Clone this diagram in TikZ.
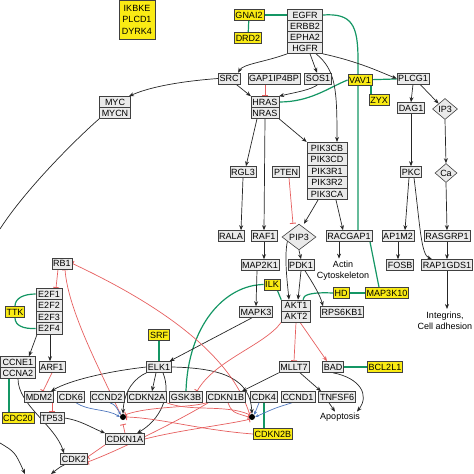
\documentclass[tikz,border=0pt]{standalone}
\usepackage{fontspec}
\setmainfont{Liberation Sans}
\usetikzlibrary{arrows.meta,shapes.geometric,calc}
\definecolor{yel}{RGB}{250,235,20}
\definecolor{grn}{RGB}{20,150,100}
\definecolor{rd}{RGB}{230,95,95}
\definecolor{bl}{RGB}{80,120,190}
\definecolor{bx}{RGB}{234,234,234}
\pgfdeclarelayer{bg}
\pgfsetlayers{bg,main}
\begin{document}
\begin{tikzpicture}[x=1pt,y=-1pt,
  nd/.style={draw=black!75, fill=bx, line width=0.6pt, inner xsep=1.3pt, inner ysep=0pt, minimum height=11pt, text height=6.5pt, text depth=0.2pt, font=\fontsize{9}{10}\selectfont},
  yl/.style={nd, fill=yel},
  dm/.style={diamond, draw=black!75, fill=bx, line width=0.6pt, inner sep=0pt, font=\fontsize{9}{10}\selectfont},
  txt/.style={align=center, inner sep=0pt, font=\fontsize{9}{11}\selectfont},
  dotn/.style={circle, fill=black, minimum size=6pt, inner sep=0pt},
  arr/.style={-{Stealth[length=5pt,width=4pt]}, line width=0.7pt, black!85},
  inh/.style={-{Bar[width=6pt,line width=0.9pt]}, line width=0.7pt, rd},
  rarr/.style={-{Stealth[length=5pt,width=4pt]}, line width=0.7pt, rd},
  gl/.style={line width=1.2pt, grn},
  bll/.style={-{Stealth[length=3.5pt,width=3pt]}, line width=0.7pt, bl}]
\useasboundingbox (0,0) rectangle (474,474);

% ---- nodes ----
\node[draw=black!75, fill=yel, line width=0.6pt, minimum width=36pt, minimum height=39pt, inner sep=0pt, align=center, font=\fontsize{9}{11.5}\selectfont] (ikb) at (137,19.5) {IKBKE\\PLCD1\\DYRK4};
\node[yl] (gnai2) at (249,15) {GNAI2};
\node[yl] (drd2) at (248,38) {DRD2};
\node[nd, minimum width=35pt] (egfr) at (305,15) {EGFR};
\node[nd, minimum width=35pt] (erbb2) at (305,26) {ERBB2};
\node[nd, minimum width=35pt] (epha2) at (305,37) {EPHA2};
\node[nd, minimum width=35pt] (hgfr) at (305,48) {HGFR};
\node[nd] (src) at (229,78.5) {SRC};
\node[nd] (gap) at (274,78.5) {GAP1IP4BP};
\node[nd] (sos1) at (318,78.5) {SOS1};
\node[yl] (vav1) at (360,80) {VAV1};
\node[nd] (plcg1) at (413,78.5) {PLCG1};
\node[yl] (zyx) at (379,100) {ZYX};
\node[nd, minimum width=31pt] (myc) at (115,102) {MYC};
\node[nd, minimum width=31pt] (mycn) at (115,113) {MYCN};
\node[nd, minimum width=27pt] (hras) at (265,102) {HRAS};
\node[nd, minimum width=27pt] (nras) at (265,113) {NRAS};
\node[nd] (dag1) at (411,108) {DAG1};
\node[dm, minimum width=25pt, minimum height=21pt] (ip3) at (445,109) {IP3};
\node[nd, minimum width=40pt, minimum height=11.5pt] (pik3cb) at (327,148) {PIK3CB};
\node[nd, minimum width=40pt, minimum height=11.5pt] (pik3cd) at (327,159.5) {PIK3CD};
\node[nd, minimum width=40pt, minimum height=11.5pt] (pik3r1) at (327,171) {PIK3R1};
\node[nd, minimum width=40pt, minimum height=11.5pt] (pik3r2) at (327,182.5) {PIK3R2};
\node[nd, minimum width=40pt, minimum height=11.5pt] (pik3ca) at (327,194) {PIK3CA};
\node[nd] (rgl3) at (243,172) {RGL3};
\node[nd] (pten) at (286,172) {PTEN};
\node[nd] (pkc) at (411,172) {PKC};
\node[dm, minimum width=22pt, minimum height=19pt] (ca) at (446,173) {Ca};
\node[nd] (rala) at (231,236) {RALA};
\node[nd] (raf1) at (264,236) {RAF1};
\node[dm, minimum width=34pt, minimum height=17pt] (pip3) at (299,237) {PIP3};
\node[nd] (racgap1) at (349,236) {RACGAP1};
\node[nd] (ap1m2) at (398,236) {AP1M2};
\node[nd] (rasgrp1) at (447,236) {RASGRP1};
\node[nd] (map2k1) at (260,265) {MAP2K1};
\node[nd] (pdk1) at (301,265) {PDK1};
\node[txt] (actin) at (343,270.5) {Actin\\Cytoskeleton};
\node[nd] (fosb) at (400,265) {FOSB};
\node[nd] (rap1gds1) at (447,265) {RAP1GDS1};
\node[yl] (ilk) at (272,284.5) {ILK};
\node[yl] (hd) at (341,293) {HD};
\node[yl] (map3k10) at (387,293) {MAP3K10};
\node[nd, minimum width=29pt] (akt1) at (296,305.5) {AKT1};
\node[nd, minimum width=29pt] (akt2) at (296,316.5) {AKT2};
\node[nd] (rps6kb1) at (342,312) {RPS6KB1};
\node[nd] (mapk3) at (256,312) {MAPK3};
\node[txt] (integ) at (445,321) {Integrins,\\Cell adhesion};
\node[nd] (rb1) at (62,263.5) {RB1};
\node[nd, minimum width=26pt, minimum height=11.5pt] (e2f1) at (49,294) {E2F1};
\node[nd, minimum width=26pt, minimum height=11.5pt] (e2f2) at (49,305.5) {E2F2};
\node[nd, minimum width=26pt, minimum height=11.5pt] (e2f3) at (49,317) {E2F3};
\node[nd, minimum width=26pt, minimum height=11.5pt] (e2f4) at (49,328.5) {E2F4};
\node[yl] (ttk) at (15,312) {TTK};
\node[yl] (srf) at (159,335) {SRF};
\node[nd] (elk1) at (159,367) {ELK1};
\node[nd] (mllt7) at (294,367) {MLLT7};
\node[nd] (bad) at (333,367) {BAD};
\node[yl] (bcl2l1) at (385,367) {BCL2L1};
\node[nd, minimum width=35pt] (ccne1) at (18,362) {CCNE1};
\node[nd, minimum width=35pt] (ccna2) at (18,373) {CCNA2};
\node[nd] (arf1) at (52,367) {ARF1};
\node[nd] (mdm2) at (39,397) {MDM2};
\node[nd] (cdk6) at (71,397) {CDK6};
\node[nd] (ccnd2) at (107,397) {CCND2};
\node[nd] (cdkn2a) at (147,397) {CDKN2A};
\node[nd] (gsk3b) at (186,397) {GSK3B};
\node[nd] (cdkn1b) at (226,397) {CDKN1B};
\node[nd] (cdk4) at (264,397) {CDK4};
\node[nd] (ccnd1) at (298,397) {CCND1};
\node[nd] (tnfsf6) at (337,397) {TNFSF6};
\node[yl] (cdc20) at (18,418) {CDC20};
\node[nd] (tp53) at (52,418) {TP53};
\node[dotn] (dot1) at (123,417) {};
\node[dotn] (dot2) at (252,417) {};
\node[txt] (apop) at (340,417) {Apoptosis};
\node[yl] (cdkn2b) at (273,434) {CDKN2B};
\node[nd] (cdkn1a) at (125,439) {CDKN1A};
\node[nd] (cdk2) at (74,459) {CDK2};
\coordinate (offl) at (0,229);
\coordinate (offl2) at (0,443);
\coordinate (offb1) at (25,474);
\coordinate (offb2) at (51,474);

\begin{pgfonlayer}{bg}
% ---- green ----
\draw[gl] (gnai2) -- (egfr);
\draw[gl] (gnai2) -- (drd2);
\draw[gl] (egfr.east) .. controls (352,13) and (358,25) .. (358,60) -- ($(racgap1.north)+(9,0)$);
\draw[gl] (vav1) -- (plcg1);
\draw[gl] ($(vav1.south)+(11,0)$) -- ($(zyx.north)+(-8,0)$);
\draw[gl] (vav1.west) .. controls (328,88) and (310,102) .. (hras.east);
\draw[gl] ($(ilk.south east)+(-3,0)$) -- (akt1.north west);
\draw[gl] (ilk.west) .. controls (225,285) and (188,325) .. (gsk3b.north);
\draw[gl] (hd.west) .. controls (310,292) and (303,295) .. ($(akt1.north)+(7,0)$);
\draw[gl] (hd) -- (map3k10);
\draw[gl] ($(racgap1.south)+(21,0)$) -- ($(map3k10.north)+(-8,0)$);
\draw[gl] (srf) -- (elk1);
\draw[gl] (bad) -- (bcl2l1);
\draw[gl] (cdk4.south) -- (cdk4.south |- cdkn2b.north);
\draw[gl] ($(ccna2.south)+(-9,0)$) -- ($(cdc20.north)+(-9,0)$);
\draw[gl] (ttk.north) .. controls (15,298) and (24,294) .. (e2f1.west);
\draw[gl] (ttk.south) .. controls (15,326) and (24,329) .. (e2f4.west);
% ---- black ----
\draw[arr] (src.west) .. controls (185,81) and (152,86) .. ($(myc.north)+(14,0)$);
\draw[line width=0.7pt, black!85] (mycn.south west) .. controls (75,140) and (25,190) .. (offl);
\draw[arr] (hgfr.south west) .. controls (265,62) and (243,64) .. ($(src.north east)+(-2,0)$);
\draw[arr] ($(hgfr.south)+(5,0)$) -- ($(sos1.north)+(-1,0)$);
\draw[arr] ($(hgfr.south)+(11,0)$) .. controls (336,70) and (337,90) .. ($(pik3cb.north)+(10,0)$);
\draw[arr] (hgfr.south east) .. controls (360,62) and (380,72) .. (plcg1.west);
\draw[arr] ($(src.south east)+(-4,0)$) -- (hras.north west);
\draw[arr] (sos1.south) .. controls (312,90) and (292,93) .. (hras.north east);
\draw[inh] ($(gap.south)+(-9,0)$) -- (hras.north);
\draw[arr] (nras.south east) -- (pik3cb.north west);
\draw[arr] ($(nras.south)+(-8,0)$) -- ($(rgl3.north)+(3,0)$);
\draw[arr] (nras.south) -- (raf1.north);
\draw[arr] (rgl3.south) -- ($(rala.north)+(10,0)$);
\draw[arr] (raf1.south) -- (raf1.south |- map2k1.north);
\draw[inh] ($(pten.south)+(3,0)$) -- ($(pip3.north)+(-6,0)$);
\draw[arr] ($(pik3ca.south)+(-9,0)$) -- ($(pip3.north)+(5,0)$);
\draw[arr] ($(pik3ca.south)+(9,0)$) -- ($(racgap1.north)+(-6,0)$);
\draw[arr] ($(racgap1.south)+(-10,0)$) -- ($(actin.north)+(-4,-2)$);
\draw[arr] (pip3.south) -- (pdk1.north);
\draw[arr] ($(pip3.west)+(6,3)$) .. controls (284,255) and (287,280) .. ($(akt1.north)+(-7,0)$);
\draw[arr] (pdk1.south) -- ($(akt1.north)+(2,0)$);
\draw[arr] ($(pdk1.south)+(4,0)$) .. controls (314,285) and (320,295) .. ($(rps6kb1.north)+(-19,0)$);
\draw[arr] ($(map2k1.south)+(-3,0)$) -- (mapk3.north);
\draw[arr] ($(mapk3.south)+(-4,0)$) -- ($(elk1.north east)+(-2,0)$);
\draw[arr] (plcg1.south) -- (dag1.north);
\draw[arr] ($(plcg1.south)+(7,0)$) -- (ip3.north west);
\draw[arr] (dag1.south) -- (pkc.north);
\draw[arr] (ip3.south) -- (ca.north);
\draw[arr] (ca.south) -- (rasgrp1.north);
\draw[arr] (rasgrp1.south) -- (rap1gds1.north);
\draw[arr] ($(pkc.south)+(-2,0)$) -- ($(ap1m2.north)+(7,0)$);
\draw[arr] ($(pkc.south)+(3,0)$) .. controls (420,225) and (421,255) .. ($(rap1gds1.north)+(-15,0)$);
\draw[arr] (ap1m2.south) -- (ap1m2.south |- fosb.north);
\draw[arr] (rap1gds1.south) -- ($(integ.north)+(2,-3)$);
\draw[arr] (elk1.west) .. controls (110,371) and (70,380) .. ($(mdm2.north)+(12,0)$);
\draw[arr] ($(elk1.south)+(-3,0)$) -- ($(cdkn2a.north)+(5,0)$);
\draw[arr] (elk1.south west) .. controls (135,378) and (124,390) .. (dot1.north);
\draw[arr] ($(elk1.south)+(4,0)$) .. controls (172,395) and (160,420) .. ($(cdkn1a.north)+(12,0)$);
\draw[arr] (elk1.east) .. controls (225,368) and (250,380) .. (dot2.north);
\draw[arr] (mllt7.south west) -- ($(cdkn1b.north)+(16,0)$);
\draw[arr] ($(mllt7.south)+(6,0)$) -- ($(tnfsf6.north)+(-16,0)$);
\draw[arr] ($(tnfsf6.south)+(-8,0)$) -- ($(apop.north)+(-5,-1)$);
\draw[arr] (bad.south) .. controls (360,378) and (370,395) .. ($(apop.north east)+(-3,-1)$);
\draw[arr] ($(e2f4.south)+(-12,0)$) -- ($(ccne1.north)+(11,0)$);
\draw[arr] ($(e2f4.south)+(1,0)$) -- ($(arf1.north)+(-2,0)$);
\draw[arr] (tp53.east) .. controls (80,420) and (92,428) .. (cdkn1a.north west);
\draw[arr] (ccna2.south) .. controls (18,405) and (55,425) .. ($(cdk2.north)+(-10,0)$);
\draw[arr] ($(cdk2.south west)+(4,0)$) .. controls (60,467) .. (offb2);
\draw[arr] (offl2) .. controls (15,452) .. (offb1);
% ---- red ----
\draw[inh] (akt2.south) -- (mllt7.north);
\draw[rarr] ($(akt2.south)+(4,0)$) -- ($(bad.north)+(-6,0)$);
\draw[inh] (akt2.south west) .. controls (265,345) and (215,360) .. ($(gsk3b.north)+(11,0)$);
\draw[inh] ($(rb1.south)+(-4,0)$) -- ($(e2f1.north)+(7,0)$);
\draw[inh] (dot1.north west) .. controls (100,370) and (68,310) .. ($(rb1.south)+(3,0)$);
\draw[inh] (dot2.north west) .. controls (230,350) and (150,300) .. (rb1.east);
\draw[inh] (arf1.south) -- ($(mdm2.north)+(4,0)$);
\draw[inh] (tp53.north |- mdm2.south) -- (tp53.north);
\draw[inh] (cdkn1a.north) -- ($(dot1.south)+(0,4)$);
\draw[inh] (cdkn1b.south west) .. controls (190,408) and (150,406) .. (dot1.north east);
\draw[inh] (cdkn2b.west) .. controls (200,430) and (160,418) .. (dot1.east);
\draw[inh] (cdkn2a.south east) .. controls (190,412) and (225,404) .. (dot2.north west);
\draw[inh] (cdkn1a.east) .. controls (180,430) and (225,425) .. (dot2.south west);
\draw[inh] ($(cdkn1b.south)+(2,0)$) .. controls (232,412) .. (dot2.west);
\draw[inh] ($(cdkn1b.south west)+(2,0)$) .. controls (180,420) and (120,450) .. ($(cdk2.east)+(0,3)$);
\draw[inh] (cdkn1a.south west) -- ($(cdk2.east)+(0,-2)$);
% ---- blue ----
\draw[bll] ($(cdk6.south)+(5,0)$) .. controls (88,411) and (108,409) .. (dot1.west);
\draw[bll] ($(ccnd2.south)+(3,0)$) .. controls (115,405) .. (dot1.north west);
\draw[bll] ($(cdk4.south)+(-5,0)$) -- (dot2.north east);
\draw[bll] ($(ccnd1.south)+(-6,0)$) .. controls (275,408) .. (dot2.east);
\end{pgfonlayer}
\end{tikzpicture}
\end{document}
